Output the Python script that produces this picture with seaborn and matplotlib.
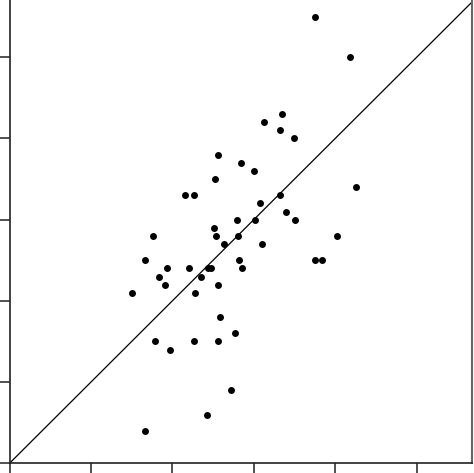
import numpy as np
import pandas as pd
import seaborn as sns
import matplotlib.pyplot as plt

# values
observed = [3.75, 4.18, 3.35, 3.12, 3.32, 3.50, 2.56, 2.84, 3.00, 2.52,
            4.26, 2.15, 2.27, 3.32, 3.08, 3.39, 3.51, 2.79, 3.02, 2.51,
            1.76, 2.54, 2.81, 4.02, 2.64, 3.10, 1.67, 2.82, 3.75, 3.84,
            1.93, 2.20, 2.44, 2.47, 2.86, 1.83, 2.35, 1.91, 2.56, 1.50,
            2.28, 2.58, 2.77, 1.79, 2.27, 2.56, 1.97, 2.72, 2.43, 1.67]
predicted = [5.5, 5.0, 4.3, 4.2, 4.1, 4.0, 3.8, 3.7, 3.6, 3.5,
             3.4, 3.3, 3.3, 3.3, 3.2, 3.1, 3.0, 3.0, 3.0, 2.9,
             2.8, 2.8, 2.8, 2.8, 2.7, 2.7, 2.5, 2.5, 2.5, 2.5,
             2.4, 2.4, 2.4, 2.4, 2.4, 2.3, 2.3, 2.2, 2.2, 2.1,
             2.1, 1.8, 1.6, 1.5, 1.5, 1.5, 1.4, 0.9, 0.6, 0.4]
ticks = [0, 1, 2, 3, 4, 5]

df = pd.DataFrame({"x": observed, "y": predicted})

sns.set_style("ticks")
fig = plt.figure(figsize=(4.74, 4.73), dpi=100)
ax = fig.add_axes([9.5 / 474, 9.7 / 473, 462.5 / 474, 463.3 / 473])

sns.scatterplot(data=df, x="x", y="y", ax=ax, color="black", s=25,
                linewidth=0, zorder=3)
ax.axline((0, 0), slope=1, color="black", linewidth=0.9)

ax.set_xlim(0, 5.68)
ax.set_ylim(0, 5.705)
ax.set_xticks(ticks)
ax.set_yticks(ticks)
ax.set_xticklabels([])
ax.set_yticklabels([])
ax.set_xlabel("")
ax.set_ylabel("")
ax.tick_params(direction="out", length=7, width=1.1, color="#222222")

ax.spines["top"].set_visible(False)
for side in ["left", "bottom"]:
    ax.spines[side].set_linewidth(1.2)
    ax.spines[side].set_color("#222222")
ax.spines["right"].set_color("#666666")
ax.spines["right"].set_linewidth(1.5)

fig.savefig("out.png", dpi=100)
